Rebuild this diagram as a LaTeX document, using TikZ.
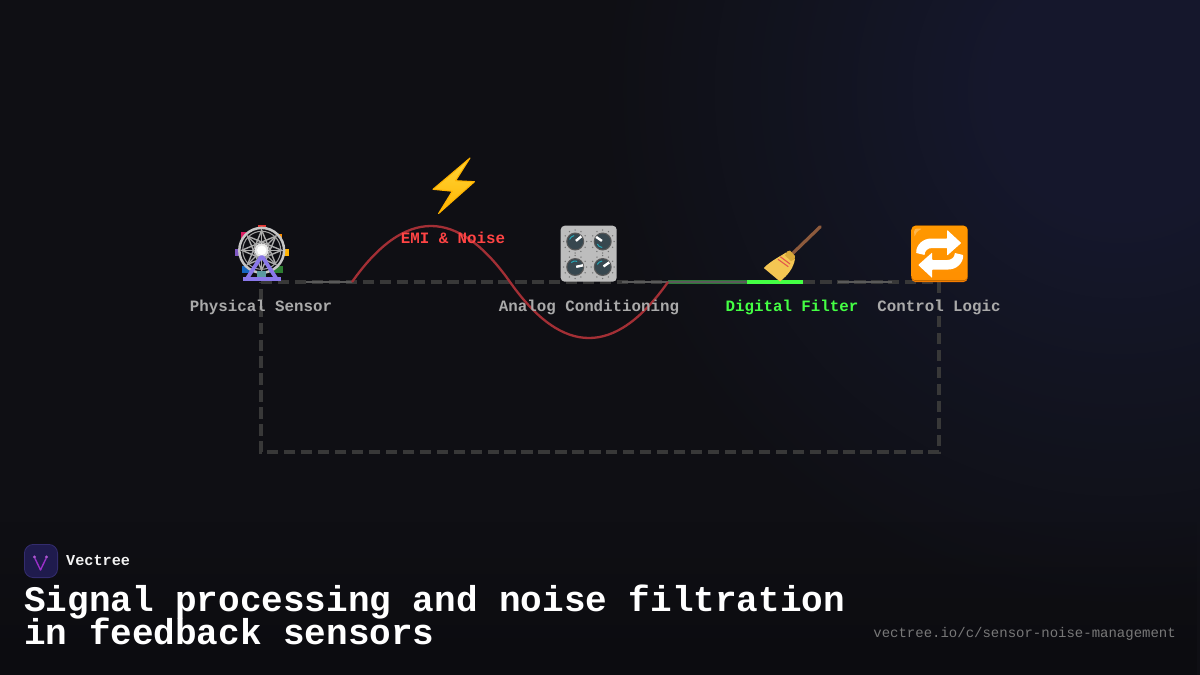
\documentclass[tikz,border=0pt]{standalone}
\usepackage{fontspec}
\setmainfont{Liberation Mono}
\usetikzlibrary{fadings}
\definecolor{bgbase}{HTML}{0F0F14}
\definecolor{bgblue}{HTML}{15172C}
\definecolor{bgmid}{HTML}{121421}
\definecolor{dashgrey}{HTML}{383838}
\definecolor{pulsegrey}{HTML}{5A5A5A}
\definecolor{noisered}{HTML}{A32F35}
\definecolor{sigred}{HTML}{FF4444}
\definecolor{siggreen}{HTML}{44FF44}
\definecolor{dimgreen}{HTML}{2C7A38}
\definecolor{labelgrey}{HTML}{AAAAAA}
\definecolor{knobdark}{HTML}{37474F}
\definecolor{knobteal}{HTML}{26A6B5}
\pgfdeclareradialshading{bgglow}{\pgfpointorigin}{color(0bp)=(bgblue); color(6bp)=(bgblue); color(14bp)=(bgmid); color(25bp)=(bgbase); color(50bp)=(bgbase)}
\tikzset{
  nodelabel/.style={anchor=base,font=\fontsize{15.8}{16}\selectfont\bfseries,text=labelgrey,inner sep=0pt},
  wire/.style={draw=dashgrey,line width=4.6pt,dash pattern=on 11.3pt off 5.65pt},
  pulse/.style={draw=pulsegrey,line width=2.2pt},
}
\newcommand{\knob}[3]{%
  \begin{scope}[shift={(#1,#2)}]
    \foreach \a in {0,30,...,330} \fill[gray!90!black] (\a:11.5) circle (.75);
    \fill[gray!70!black] (0,0) circle (9);
    \fill[knobdark] (0,0) circle (7.8);
    \draw[knobteal,line width=1pt] (#3-120:6) arc[start angle=#3-120,end angle=#3-60,radius=6];
    \draw[white,line width=2.4pt] (#3:1) -- (#3:8);
  \end{scope}}
\begin{document}
\begin{tikzpicture}[x=1pt,y=-1pt]
\useasboundingbox (0,0) rectangle (1200,675);
% background
\fill[bgbase] (0,0) rectangle (1200,675);
\begin{scope}
  \clip (0,0) rectangle (1200,675);
  \shade[shading=bgglow] (1120,90) circle (520);
\end{scope}
\fill[black,path fading=north,opacity=.2] (0,520) rectangle (1200,675);
% anchor points
\coordinate (sensor) at (261,282);
\coordinate (control) at (939,282);
\coordinate (loopa) at (261,452);
\coordinate (loopb) at (939,452);
\coordinate (p1a) at (306,282);
\coordinate (p1b) at (352,282);
\coordinate (p2a) at (622,282);
\coordinate (p2b) at (668,282);
\coordinate (p3a) at (838,282);
\coordinate (p3b) at (892,282);
\coordinate (g1) at (747,282);
\coordinate (g2) at (803,282);
\coordinate (mid) at (510,282);
% wires
\draw[wire] (sensor) -- (control);
\draw[wire] (control) -- (loopb) -- (loopa) -- (sensor);
\draw[dimgreen,line width=4.4pt] (p2b) -- (g1);
\draw[siggreen,line width=4.4pt] (g1) -- (g2);
\draw[pulse] (p1a) -- (p1b);
\draw[pulse] (p2a) -- (g1);
\draw[pulse] (p3a) -- (p3b);
\draw[noisered,line width=2.3pt] (p1b) .. controls (404.67,207.33) and (457.33,207.33) .. (mid)
   .. controls (562.67,356.67) and (615.33,356.67) .. (p2b);
% ferris wheel
\begin{scope}[shift={(261.7,250.3)}]
  \foreach \x/\y/\c in {0/-22/E53935,-16.2/-14.5/D81B60,16.2/-12.5/FB8C00,23/2.5/FFB300,-23/2.5/7E57C2,16.7/19.5/2E7D32,-15.7/19.5/1565C0,0/24/5B9AA0}{
    \definecolor{cab}{HTML}{\c}
    \fill[cab] (\x,\y) ++(-4.2,-3.5) rectangle ++(8.4,7);
  }
  \fill[bgbase] (0,0) circle (22);
  \foreach \a in {0,45,...,315}{
    \draw[gray!65!white,line width=1.4pt] (\a:20) -- (\a+135:20);
    \draw[gray!65!white,line width=1.1pt] (0,0) -- (\a:21);
  }
  \draw[gray!45!white,line width=2.5pt] (0,0) circle (22.4);
  \draw[gray!70!white,line width=1pt] (0,0) circle (19);
  \fill[white!80!gray] (0,0) circle (7);
  \fill[white] (0,0) circle (4.8);
  \definecolor{teal2}{HTML}{5B9AA0}
  \fill[teal2] (-4.5,21) rectangle (4.5,28);
  \definecolor{legp}{HTML}{8A78EA}
  \draw[legp,line width=3.8pt,line join=round] (-14.5,28) -- (-1,7) -- (1,7) -- (14.5,28);
  \draw[legp,line width=3.4pt] (-18.5,28.6) -- (19,28.6);
\end{scope}
% lightning
\definecolor{boltA}{HTML}{FFD83B}
\definecolor{boltB}{HTML}{FFB300}
\filldraw[top color=boltA,bottom color=boltB,draw=boltB,line width=1.1pt,line join=round] (470,158) -- (433,189.3) -- (452.3,191.2) -- (438.6,213.5) -- (474.5,181.7) -- (455.6,180.7) -- cycle;
% knob panel
\definecolor{panelgrey}{HTML}{BDBDBD}
\fill[panelgrey,rounded corners=4pt] (560.7,225.7) rectangle (616.7,281.7);
\knob{575.2}{241.5}{-40}
\knob{602.7}{241.5}{-145}
\knob{575.2}{267}{-12}
\knob{602.7}{267}{-35}
% broom
\definecolor{broomh}{HTML}{8D5A3C}
\definecolor{broomy}{HTML}{F4C653}
\definecolor{broomr}{HTML}{E2574C}
\definecolor{broomd}{HTML}{D9A93A}
\draw[broomh,line width=3.2pt,line cap=round] (820.3,226.7) -- (791,255);
\fill[broomy] (786,252.5) -- (795,259) .. controls (793.5,268) and (788,275) .. (780,281.5) -- (763.8,268) .. controls (770,261.5) and (779,257) .. cycle;
\fill[broomd] (787,251.5) -- (790,250.5) -- (795,256) -- (794.5,259.5) -- (791,261) -- (785,255.5) -- cycle;
\draw[broomr,line width=1.1pt] (780.3,256.7) -- (790,264);
\draw[broomr,line width=1.1pt] (778,259.3) -- (788.3,266.7);
% repeat icon
\definecolor{repeatA}{HTML}{FF9800}
\definecolor{repeatB}{HTML}{FF8F00}
\definecolor{repeatC}{HTML}{F57C00}
\definecolor{repeatL}{HTML}{FFB74D}
\fill[repeatC,rounded corners=4pt] (911.4,225.7) rectangle (967.6,282);
\fill[top color=repeatA,bottom color=repeatB,rounded corners=4pt] (911.4,225.7) rectangle (967.6,280.5);
\fill[repeatL,rounded corners=3pt] (914,228.5) -- (923,228.5) .. controls (917,231) and (915.5,234) .. (914.5,238) -- cycle;
\begin{scope}[shift={(939.7,254)}]
  \foreach \r in {0,180}{
    \begin{scope}[rotate=\r]
      \fill[white,rounded corners=.6pt] (7.5,-24) -- (21.5,-11) -- (7.5,1.5) -- (7.5,-6) -- (-7,-6) .. controls (-12,-6) and (-15,-3) .. (-15,1) -- (-23.5,-1) .. controls (-23.5,-9) and (-17,-15.5) .. (-8,-15.5) -- (7.5,-15.5) -- cycle;
    \end{scope}
  }
\end{scope}
% labels
\node[nodelabel] (lsensor) at (261,311) {Physical Sensor};
\node[nodelabel,text=sigred] (lemi) at (453,243) {EMI \& Noise};
\node[nodelabel] (lanalog) at (589,311) {Analog Conditioning};
\node[nodelabel,text=siggreen] (lfilter) at (792,311) {Digital Filter};
\node[nodelabel] (lcontrol) at (939,311) {Control Logic};
% brand
\definecolor{logofill}{HTML}{1F1B4D}
\definecolor{logoedge}{HTML}{332C6E}
\definecolor{logopurple}{HTML}{9A2FC8}
\fill[logofill,draw=logoedge,line width=.8pt,rounded corners=9pt] (24.4,544.4) rectangle (57.6,577.6);
\draw[logopurple,line width=1.4pt,line join=round] (35,558.5) -- (40.5,570) -- (46,558.5);
\fill[logopurple!80!white] (34.5,557) circle (1.7) (46.5,557) circle (1.7);
\node[anchor=base west,inner sep=0pt,text=white!90!gray,font=\fontsize{15.2}{16}\selectfont\bfseries] (brand) at (66,565.5) {Vectree};
\node[anchor=base west,inner sep=0pt,text=white,font=\fontsize{36}{36}\selectfont\bfseries] (title1) at (24,611.5) {Signal processing and noise filtration};
\node[anchor=base west,inner sep=0pt,text=white,font=\fontsize{36}{36}\selectfont\bfseries] (title2) at (24,644.5) {in feedback sensors};
\node[anchor=base east,inner sep=0pt,text=white!47!black,font=\fontsize{14}{14}\selectfont] (url) at (1176,637.3) {vectree.io/c/sensor-noise-management};
\end{tikzpicture}
\end{document}
